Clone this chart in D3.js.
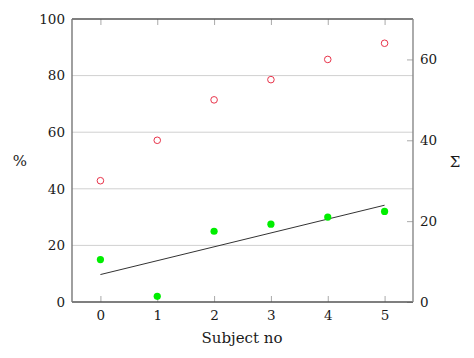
<!DOCTYPE html>
<html><head><meta charset="utf-8">
<script src="https://cdn.jsdelivr.net/npm/d3@7"></script>
<style>body{margin:0;background:#fff}svg{display:block}</style>
</head><body>
<script>
const subjects = [0, 1, 2, 3, 4, 5];
const percentValues = [15, 2, 25, 27.5, 30, 32];   // green dots, left axis (%)
const sigmaValues = [30, 40, 50, 55, 60, 64];      // red circles, right axis (Σ)
const fitX = [0, 5];
const fitY = [9.7, 34.2];                           // trend line, left axis
const leftTicks = [0, 20, 40, 60, 80, 100];
const rightTicks = [0, 20, 40, 60];

const FONT = "DejaVu Serif";
const W = 474, H = 358;
const m = {l: 72, r: 413, t: 19, b: 302};
const svg = d3.select("body").append("svg").attr("width", W).attr("height", H)
  .attr("font-family", FONT);

const x = d3.scaleLinear().domain([-0.5, 5.5]).range([m.l, m.r]);
const yL = d3.scaleLinear().domain([0, 100]).range([m.b, m.t]);
const yR = d3.scaleLinear().domain([0, 70]).range([m.b, m.t]);

svg.append("g").selectAll("line").data(leftTicks.slice(1, -1)).join("line")
  .attr("x1", m.l).attr("x2", m.r).attr("y1", d => yL(d)).attr("y2", d => yL(d))
  .attr("stroke", "#d0d0d0").attr("stroke-width", 1);

function styleAxis(g) {
  g.attr("font-family", FONT).attr("font-size", 13.5);
  g.select(".domain").remove();
  g.selectAll(".tick line").attr("stroke", "#aaa");
  g.selectAll(".tick text").attr("fill", "#1a1a1a");
}

svg.append("g").attr("transform", `translate(0,${m.b})`)
  .call(d3.axisBottom(x).tickValues(subjects).tickFormat(d3.format("d")).tickSize(-6).tickPadding(8))
  .call(styleAxis);
svg.append("g").attr("transform", `translate(0,${m.t})`)
  .call(d3.axisTop(x).tickValues(subjects).tickFormat("").tickSize(-6))
  .call(styleAxis);
svg.append("g").attr("transform", `translate(${m.l},0)`)
  .call(d3.axisLeft(yL).tickValues(leftTicks).tickFormat(d3.format("d")).tickSize(0).tickPadding(7))
  .call(styleAxis);
svg.append("g").attr("transform", `translate(${m.r},0)`)
  .call(d3.axisRight(yR).tickValues(rightTicks).tickFormat(d3.format("d")).tickSize(-6).tickPadding(7))
  .call(g => { styleAxis(g); g.selectAll(".tick line").attr("x1", 0); });

svg.append("line").attr("x1", m.l).attr("x2", m.r).attr("y1", m.t).attr("y2", m.t).attr("stroke", "#555").attr("stroke-width", 1.6);
svg.append("line").attr("x1", m.l).attr("x2", m.r).attr("y1", m.b).attr("y2", m.b).attr("stroke", "#555").attr("stroke-width", 1.6);
svg.append("line").attr("x1", m.l).attr("x2", m.l).attr("y1", m.t).attr("y2", m.b).attr("stroke", "#777").attr("stroke-width", 1.4);
svg.append("line").attr("x1", m.r).attr("x2", m.r).attr("y1", m.t).attr("y2", m.b).attr("stroke", "#888").attr("stroke-width", 1.4);

svg.append("path").datum(fitX.map((d, i) => [d, fitY[i]]))
  .attr("d", d3.line().x(d => x(d[0])).y(d => yL(d[1])))
  .attr("fill", "none").attr("stroke", "#333").attr("stroke-width", 1);

svg.append("g").selectAll("circle").data(subjects).join("circle")
  .attr("cx", d => x(d)).attr("cy", (d, i) => yR(sigmaValues[i])).attr("r", 3.3)
  .attr("fill", "none").attr("stroke", "#e8334a").attr("stroke-width", 1);

svg.append("g").selectAll("circle").data(subjects).join("circle")
  .attr("cx", d => x(d)).attr("cy", (d, i) => yL(percentValues[i])).attr("r", 3.6)
  .attr("fill", "#00ee00");

const title = (tx, ty, s, size) => svg.append("text").attr("x", tx).attr("y", ty)
  .attr("text-anchor", "middle").attr("font-family", FONT).attr("font-size", size).attr("fill", "#1a1a1a").text(s);
title(20, 166, "%", 15);
title(455, 167, "Σ", 15);
title(242, 343, "Subject no", 15);
</script>
</body></html>
